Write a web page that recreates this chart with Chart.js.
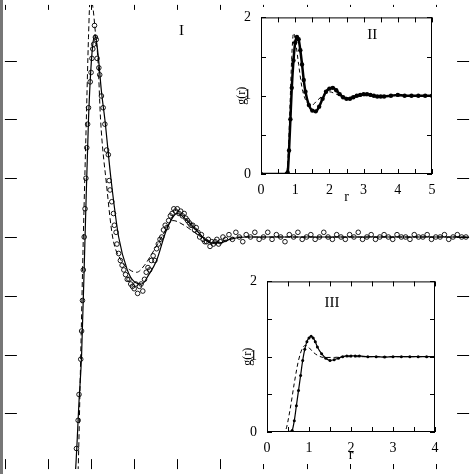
<!DOCTYPE html>
<html><head><meta charset="utf-8">
<script src="https://cdn.jsdelivr.net/npm/chart.js@4/dist/chart.umd.min.js"></script>
<style>
body{margin:0;background:#fff}
#wrap{position:relative;width:474px;height:474px;overflow:hidden}
canvas{position:absolute}
</style></head><body>
<div id="wrap">
<canvas id="main" style="left:0;top:0;width:474px;height:474px"></canvas>
<canvas id="ins2" style="left:235px;top:7px;width:203px;height:199px"></canvas>
<canvas id="ins3" style="left:241px;top:271px;width:200px;height:193px"></canvas>
</div>
<script>
// main panel I: solid fit, dashed theory, open-circle simulation points
const mainSolid = [[0.78,-0.1],[0.82,0.01],[0.86,0.3],[0.89,0.5],[0.93,1.0],[0.97,1.5],[1.01,1.78],[1.045,1.86],[1.08,1.78],[1.12,1.62],[1.16,1.5],[1.23,1.25],[1.32,1.0],[1.42,0.86],[1.50,0.81],[1.59,0.80],[1.67,0.84],[1.76,0.90],[1.875,1.03],[2.0,1.10],[2.1,1.075],[2.22,1.03],[2.39,0.975],[2.5,0.975],[2.61,0.99],[2.8,1.0],[5.4,1.0]];
const mainDash = [[0.82,-0.2],[0.85,0.01],[0.88,0.5],[0.91,1.0],[0.945,1.5],[0.97,1.85],[0.99,2.02],[1.02,1.98],[1.05,1.87],[1.08,1.75],[1.11,1.5],[1.18,1.22],[1.25,1.0],[1.35,0.9],[1.45,0.86],[1.53,0.85],[1.62,0.88],[1.70,0.925],[1.82,1.0],[1.95,1.07],[2.08,1.05],[2.22,1.015],[2.44,0.975],[2.7,1.0],[5.4,1.0]];
const mainPts = [[0.81,0.0],[0.83,0.1],[0.85,0.22],[0.86,0.33],[0.88,0.48],[0.89,0.6],[0.9,0.73],[0.91,0.86],[0.92,1.0],[0.93,1.12],[0.94,1.25],[0.95,1.38],[0.96,1.48],[0.97,1.55],[0.99,1.66],[1.0,1.7],[1.01,1.76],[1.02,1.8],[1.03,1.82],[1.04,1.9],[1.05,1.85],[1.06,1.84],[1.07,1.76],[1.09,1.72],[1.1,1.69],[1.12,1.6],[1.14,1.55],[1.16,1.48],[1.18,1.37],[1.2,1.35],[1.21,1.24],[1.22,1.2],[1.24,1.15],[1.26,1.1],[1.27,1.05],[1.29,1.02],[1.3,0.97],[1.32,0.93],[1.34,0.9],[1.36,0.88],[1.38,0.86],[1.4,0.84],[1.42,0.82],[1.44,0.82],[1.46,0.8],[1.48,0.79],[1.5,0.78],[1.52,0.8],[1.54,0.76],[1.56,0.79],[1.58,0.8],[1.6,0.77],[1.62,0.82],[1.64,0.85],[1.66,0.87],[1.68,0.86],[1.7,0.9],[1.72,0.92],[1.74,0.9],[1.76,0.95],[1.78,0.97],[1.8,0.99],[1.82,1.0],[1.84,1.03],[1.86,1.05],[1.88,1.04],[1.9,1.07],[1.92,1.09],[1.94,1.1],[1.96,1.12],[1.98,1.11],[2.0,1.12],[2.02,1.1],[2.04,1.11],[2.06,1.09],[2.08,1.1],[2.1,1.08],[2.12,1.07],[2.14,1.06],[2.16,1.05],[2.18,1.05],[2.2,1.03],[2.22,1.04],[2.24,1.02],[2.26,1.0],[2.28,1.01],[2.3,0.99],[2.32,0.98],[2.34,0.98],[2.36,0.99],[2.38,0.96],[2.4,0.98],[2.42,0.97],[2.44,0.98],[2.46,0.99],[2.48,0.97],[2.5,0.98],[2.53,1.0],[2.56,0.99],[2.6,1.01],[2.64,0.99],[2.68,1.02],[2.72,1.0],[2.76,0.98],[2.8,1.01],[2.85,1.0],[2.9,1.02],[2.95,0.99],[3.0,1.0],[3.05,1.02],[3.1,0.99],[3.15,1.01],[3.2,1.0],[3.25,0.98],[3.3,1.01],[3.35,1.0],[3.4,1.02],[3.45,0.99],[3.5,1.0],[3.55,1.01],[3.6,0.99],[3.65,1.0],[3.7,1.02],[3.75,1.0],[3.8,0.99],[3.85,1.01],[3.9,1.0],[3.95,0.99],[4.0,1.01],[4.05,1.0],[4.1,1.02],[4.15,0.99],[4.2,1.0],[4.25,1.01],[4.3,0.99],[4.35,1.0],[4.4,1.01],[4.45,1.0],[4.5,0.99],[4.55,1.01],[4.6,1.0],[4.65,1.0],[4.7,0.99],[4.75,1.01],[4.8,1.0],[4.85,1.0],[4.9,1.01],[4.95,0.99],[5.0,1.0],[5.05,1.0],[5.1,1.01],[5.15,0.99],[5.2,1.0],[5.25,1.01],[5.3,1.0],[5.35,1.0]];

// inset II
const ins2Solid = [[0,0],[0.75,0],[0.78,0.02],[0.82,0.3],[0.86,0.7],[0.9,1.1],[0.95,1.45],[1.0,1.68],[1.05,1.75],[1.1,1.72],[1.15,1.58],[1.2,1.4],[1.25,1.2],[1.3,1.05],[1.4,0.88],[1.5,0.81],[1.6,0.8],[1.7,0.86],[1.8,0.96],[1.9,1.05],[2.0,1.09],[2.1,1.1],[2.2,1.07],[2.3,1.02],[2.4,0.98],[2.5,0.96],[2.6,0.96],[2.7,0.98],[2.8,1.0],[2.9,1.01],[3.0,1.02],[3.1,1.02],[3.2,1.01],[3.3,1.0],[3.4,0.99],[3.5,0.99],[3.6,0.99],[3.8,1.0],[4.0,1.01],[4.2,1.0],[4.4,1.0],[4.6,1.0],[4.8,1.0],[5.0,1.0]];
const ins2Dash = [[0,0],[0.75,0],[0.8,0.3],[0.85,0.9],[0.9,1.5],[0.95,1.8],[1.0,1.72],[1.1,1.4],[1.2,1.1],[1.3,0.95],[1.4,0.89],[1.5,0.88],[1.6,0.92],[1.8,1.0],[2.0,1.05],[2.2,1.02],[2.5,0.98],[3.0,1.0],[5.0,1.0]];
// inset III
const ins3Solid = [[0,0],[0.55,0],[0.6,0.02],[0.65,0.15],[0.7,0.35],[0.75,0.55],[0.8,0.75],[0.85,0.95],[0.9,1.1],[0.95,1.2],[1.0,1.25],[1.05,1.27],[1.1,1.25],[1.15,1.2],[1.2,1.13],[1.3,1.04],[1.4,0.98],[1.5,0.95],[1.6,0.96],[1.7,0.98],[1.8,1.0],[1.9,1.01],[2.0,1.01],[2.1,1.01],[2.2,1.01],[2.4,1.0],[2.6,1.0],[2.8,0.995],[3.0,1.0],[3.2,1.0],[3.4,1.0],[3.6,1.0],[3.8,1.0],[4.0,1.0]];
const ins3Dash = [[0,0],[0.4,0],[0.45,0.03],[0.55,0.3],[0.65,0.65],[0.75,0.95],[0.85,1.12],[0.92,1.15],[1.0,1.12],[1.1,1.06],[1.2,1.02],[1.35,0.99],[1.6,0.99],[1.8,1.0],[4.0,1.0]];

const xy = a => a.map(p => ({x: p[0], y: p[1]}));
const serif = '"Liberation Serif", "DejaVu Serif", serif';

// inward ticks on all four sides + panel label
function framePlugin(o) {
  return {
    id: 'frame',
    beforeDraw(chart) {
      if (!o.box) return;
      const c = chart.ctx;
      c.save(); c.fillStyle = '#fff'; c.fillRect(0, 0, chart.width, chart.height); c.restore();
    },
    afterDraw(chart) {
      const c = chart.ctx, a = chart.chartArea, sx = chart.scales.x, sy = chart.scales.y;
      c.save();
      c.strokeStyle = '#000'; c.lineWidth = 1;
      if (o.box) c.strokeRect(a.left + 0.5, a.top + 0.5, a.right - a.left - 1, a.bottom - a.top - 1);
      c.beginPath();
      for (let v = sx.min; v <= sx.max + 1e-9; v += o.xStep) {
        const p = Math.round(sx.getPixelForValue(v)) + 0.5;
        c.moveTo(p, a.top); c.lineTo(p, a.top + o.topLen);
        c.moveTo(p, a.bottom); c.lineTo(p, a.bottom - o.botLen);
      }
      for (let v = Math.ceil(sy.min / o.yStep) * o.yStep; v <= sy.max + 1e-9; v += o.yStep) {
        const p = Math.round(sy.getPixelForValue(v)) + 0.5;
        c.moveTo(a.left, p); c.lineTo(a.left + o.leftLen, p);
        c.moveTo(a.right, p); c.lineTo(a.right - o.rightLen, p);
      }
      c.stroke();
      if (o.leftBar) { c.fillStyle = '#777'; c.fillRect(0, 0, 3, chart.height); }
      c.fillStyle = '#000'; c.font = '15px ' + serif; c.textAlign = 'center';
      c.fillText(o.label, sx.getPixelForValue(o.lx), sy.getPixelForValue(o.ly));
      c.restore();
    }
  };
}

function dsLine(d, dash, w) {
  return {data: xy(d), showLine: true, borderColor: '#000', borderWidth: w, borderDash: dash, pointRadius: 0, fill: false, cubicInterpolationMode: 'monotone'};
}

new Chart(document.getElementById('main'), {
  type: 'scatter',
  data: {datasets: [
    dsLine(mainDash, [5, 3], 1), dsLine(mainSolid, [], 1.2),
    {data: xy(mainPts), pointRadius: 2.3, pointStyle: 'circle', borderColor: '#000', borderWidth: 0.9, backgroundColor: 'rgba(0,0,0,0)', showLine: false}
  ]},
  options: {
    animation: false, responsive: false, devicePixelRatio: 1,
    layout: {padding: 0},
    plugins: {legend: {display: false}, tooltip: {enabled: false}},
    scales: {
      x: {type: 'linear', display: false, min: 0, max: 474 / 88},
      y: {type: 'linear', display: false, min: 0.0125, max: 1.9875}
    }
  },
  plugins: [framePlugin({xStep: 0.5, yStep: 0.25, topLen: 5, botLen: 10, leftLen: 12, rightLen: 12, leftBar: true, label: 'I', lx: 2.05, ly: 1.86})]
});

function inset(id, solid, dash, xmax, label, lx, ly, mr, lw) {
  const tickFont = {family: serif, size: 14};
  new Chart(document.getElementById(id), {
    type: 'scatter',
    data: {datasets: [
      dsLine(dash, [4, 3], 1),
      {data: xy(solid), borderColor: '#000', borderWidth: lw, pointRadius: mr, pointBackgroundColor: '#000', pointBorderWidth: 0, showLine: true, cubicInterpolationMode: 'monotone'}
    ]},
    options: {
      animation: false, responsive: false, devicePixelRatio: 1,
      layout: {padding: {top: 8, right: 6, left: 0, bottom: 0}},
      plugins: {legend: {display: false}, tooltip: {enabled: false}},
      scales: {
        x: {type: 'linear', min: 0, max: xmax, grid: {display: false}, border: {display: false},
          ticks: {stepSize: 1, color: '#000', font: tickFont, padding: 0, maxRotation: 0},
          title: {display: true, text: 'r', color: '#000', font: tickFont, padding: {top: -4, bottom: 0}},
          afterFit: s => { s.height = 32; }},
        y: {type: 'linear', min: 0, max: 2, grid: {display: false}, border: {display: false},
          ticks: {stepSize: 0.5, color: '#000', font: tickFont, padding: 2, callback: v => Number.isInteger(v) ? v : ''},
          title: {display: true, text: 'g(r)', color: '#000', font: {family: serif, size: 12}, padding: 0},
          afterFit: s => { s.width = 26; }}
      }
    },
    plugins: [framePlugin({box: true, xStep: 0.5, yStep: 0.5, topLen: 5, botLen: 5, leftLen: 5, rightLen: 5, label: label, lx: lx, ly: ly})]
  });
}
inset('ins2', ins2Solid, ins2Dash, 5, 'II', 3.25, 1.72, 2.2, 2.5);
inset('ins3', ins3Solid, ins3Dash, 4, 'III', 1.55, 1.66, 1.5, 1.2);
</script>
</body></html>
